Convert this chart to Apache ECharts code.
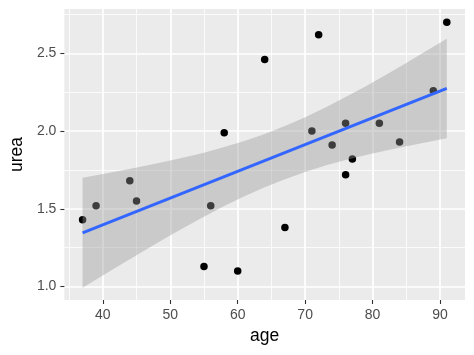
<!DOCTYPE html>
<html>
<head>
<meta charset="utf-8">
<script src="https://cdn.jsdelivr.net/npm/echarts@6/dist/echarts.min.js"></script>
<style>
html,body{margin:0;padding:0;background:#fff;}
#chart{width:474px;height:355px;}
</style>
</head>
<body>
<div id="chart"></div>
<script>
// observed points
const ages = [37, 39, 44, 45, 55, 56, 58, 60, 64, 67, 71, 72, 74, 76, 76, 77, 81, 84, 89, 91];
const urea = [1.43, 1.52, 1.68, 1.55, 1.13, 1.52, 1.99, 1.10, 2.46, 1.38, 2.00, 2.62, 1.91, 2.05, 1.72, 1.82, 2.05, 1.93, 2.26, 2.70];

// fitted linear trend
const fitAge = [37, 91];
const fitUrea = [1.346, 2.274];

// confidence band
const bandAge   = [37, 40, 43, 46, 49, 52, 55, 58, 61, 64, 67, 70, 73, 76, 79, 82, 85, 88, 91];
const bandLower = [0.992, 1.072, 1.151, 1.228, 1.304, 1.378, 1.450, 1.518, 1.581, 1.639, 1.691, 1.737, 1.778, 1.814, 1.846, 1.876, 1.903, 1.929, 1.954];
const bandUpper = [1.700, 1.724, 1.748, 1.774, 1.801, 1.830, 1.861, 1.897, 1.936, 1.981, 2.032, 2.089, 2.151, 2.219, 2.289, 2.363, 2.438, 2.516, 2.594];

// axes
const xTicks = [40, 50, 60, 70, 80, 90];
const xMinorGrid = [35, 45, 55, 65, 75, 85];
const yTicks = [1.0, 1.5, 2.0, 2.5];
const yMinorGrid = [1.25, 1.75, 2.25, 2.75];
const xRange = [34.3, 93.7];
const yRange = [0.914, 2.785];

const FONT = '"Liberation Sans", Arial, Helvetica, sans-serif';

const gridLines = [];
xMinorGrid.forEach(v => gridLines.push({xAxis: v, lineStyle: {color: '#ffffff', width: 0.8, type: 'solid'}}));
yMinorGrid.forEach(v => gridLines.push({yAxis: v, lineStyle: {color: '#ffffff', width: 0.8, type: 'solid'}}));
xTicks.forEach(v => gridLines.push({xAxis: v, lineStyle: {color: '#ffffff', width: 1.7, type: 'solid'}}));
yTicks.forEach(v => gridLines.push({yAxis: v, lineStyle: {color: '#ffffff', width: 1.7, type: 'solid'}}));

const chart = echarts.init(document.getElementById('chart'), null, {renderer: 'canvas'});
chart.setOption({
  animation: false,
  backgroundColor: '#ffffff',
  textStyle: {fontFamily: FONT},
  grid: {
    left: 60, right: 9, top: 9, bottom: 55,
    show: true, backgroundColor: '#EBEBEB', borderWidth: 0
  },
  xAxis: {
    type: 'value',
    min: xRange[0], max: xRange[1],
    name: 'age', nameLocation: 'middle', nameGap: 26,
    nameTextStyle: {fontFamily: FONT, fontSize: 17.5, color: '#000000'},
    axisLine: {show: false},
    axisTick: {show: true, length: 4, customValues: xTicks, lineStyle: {color: '#333333', width: 1.1}},
    axisLabel: {customValues: xTicks, margin: 8, fontFamily: FONT, fontSize: 14, color: '#4D4D4D',
      formatter: v => String(v)},
    splitLine: {show: false},
    minorSplitLine: {show: false}
  },
  yAxis: {
    type: 'value',
    min: yRange[0], max: yRange[1],
    name: 'urea', nameLocation: 'middle', nameGap: 34, nameRotate: 90,
    nameTextStyle: {fontFamily: FONT, fontSize: 17.5, color: '#000000'},
    axisLine: {show: false},
    axisTick: {show: true, length: 4, customValues: yTicks, lineStyle: {color: '#333333', width: 1.1}},
    axisLabel: {customValues: yTicks, margin: 8, fontFamily: FONT, fontSize: 14, color: '#4D4D4D',
      formatter: v => Number(v).toFixed(1)},
    splitLine: {show: false},
    minorSplitLine: {show: false}
  },
  series: [
    {
      type: 'line',
      z: 0,
      data: [],
      silent: true,
      symbol: 'none',
      markLine: {
        z: 0,
        silent: true,
        symbol: ['none', 'none'],
        label: {show: false},
        emphasis: {disabled: true},
        animation: false,
        data: gridLines
      }
    },
    {
      type: 'scatter',
      z: 10,
      data: ages.map((a, i) => [a, urea[i]]),
      symbol: 'circle',
      symbolSize: 7.5,
      itemStyle: {color: '#000000', opacity: 1},
      silent: true
    },
    {
      type: 'custom',
      z: 11,
      silent: true,
      data: bandAge.map((a, i) => [a, bandLower[i], bandUpper[i]]),
      encode: {x: 0, y: [1, 2]},
      renderItem: function (params, api) {
        if (params.dataIndex !== 0) return {type: 'group', children: []};
        const pts = [];
        for (let i = 0; i < bandAge.length; i++) pts.push(api.coord([bandAge[i], bandUpper[i]]));
        for (let i = bandAge.length - 1; i >= 0; i--) pts.push(api.coord([bandAge[i], bandLower[i]]));
        return {
          type: 'polygon',
          shape: {points: pts},
          style: {fill: 'rgba(153,153,153,0.4)', stroke: null}
        };
      }
    },
    {
      type: 'line',
      z: 12,
      silent: true,
      data: fitAge.map((a, i) => [a, fitUrea[i]]),
      symbol: 'none',
      lineStyle: {color: '#3366FF', width: 3}
    }
  ]
});
</script>
</body>
</html>
